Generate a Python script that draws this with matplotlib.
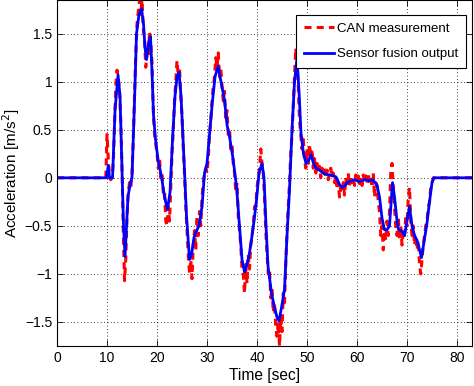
import numpy as np
import matplotlib
matplotlib.use("Agg")
import matplotlib.pyplot as plt

plt.rcParams['font.family'] = ['Liberation Sans', 'DejaVu Sans']

# Sensor fusion output (blue): time [s], acceleration [m/s^2]
fusion_t = [0, 9.9, 10.25, 10.5, 11.1, 11.6, 12.2, 12.6, 13.0, 13.3, 13.6, 13.9, 14.2, 14.6,
            15.0, 15.5, 15.9, 16.4, 16.9, 17.3, 17.6, 17.9, 18.3, 18.7, 19.0, 19.3, 19.7,
            20.2, 20.9, 21.5, 22.1, 22.6, 23.1, 23.6, 24.0, 24.4, 24.8, 25.3, 25.9, 26.5,
            26.9, 27.4, 27.9, 28.4, 29.0, 29.5, 30.0, 30.5, 31.0, 31.6, 32.2, 32.8, 33.5,
            34.0, 34.5, 35.2, 35.9, 36.5, 37.0, 37.5, 38.0, 38.5, 38.9, 39.4, 39.9, 40.4,
            41.0, 41.4, 41.8, 42.2, 42.9, 43.5, 44.0, 44.4, 44.9, 45.5, 46.0, 46.5, 47.0,
            47.5, 48.0, 48.4, 48.8, 49.3, 49.8, 50.3, 50.8, 51.3, 51.8, 52.5, 53.5, 54.5,
            55.3, 55.8, 56.5, 57.0, 57.5, 58.0, 58.5, 59.5, 60.5, 61.5, 62.5, 63.1, 63.6,
            64.0, 64.5, 65.0, 65.5, 66.0, 66.5, 67.1, 67.5, 68.0, 68.3, 68.9, 69.5, 70.0,
            70.5, 71.0, 71.5, 72.0, 72.5, 72.9, 73.3, 74.0, 74.5, 75.0, 75.4, 83]
fusion_a = [0, 0, 0.13, 0.0, 0.0, 0.7, 1.07, 0.85, 0.1, -0.5, -0.82, -0.5, -0.19, -0.08,
            0.01, 0.8, 1.5, 1.7, 1.76, 1.6, 1.35, 1.23, 1.4, 1.47, 1.1, 0.65, 0.4,
            0.19, 0.01, -0.2, -0.33, -0.15, 0.4, 0.85, 1.05, 1.1, 0.85, 0.3, -0.4, -0.85,
            -0.8, -0.62, -0.55, -0.5, -0.3, 0.05, 0.15, 0.45, 0.75, 1.05, 1.16, 1.0, 0.81,
            0.55, 0.43, 0.2, -0.09, -0.5, -0.85, -0.98, -0.9, -0.78, -0.64, -0.45, -0.23, 0.05,
            0.15, 0.0, -0.5, -0.92, -1.2, -1.35, -1.45, -1.49, -1.35, -1.16, -0.6, -0.12, 0.5,
            1.0, 1.24, 0.9, 0.46, 0.25, 0.15, 0.18, 0.24, 0.15, 0.1, 0.08, 0.04, 0.03,
            0.02, 0.01, -0.07, -0.1, -0.09, -0.05, -0.04, -0.02, -0.04, -0.02, -0.03, -0.02, -0.05,
            -0.08, -0.2, -0.42, -0.54, -0.54, -0.5, -0.05, -0.2, -0.45, -0.54, -0.55, -0.6, -0.45,
            -0.3, -0.5, -0.6, -0.65, -0.75, -0.83, -0.7, -0.47, -0.25, -0.05, 0.0, 0]

# CAN measurement (red): sampled every 0.25 s from 9.5 s to 76 s, zero outside
can_start, can_step = 9.5, 0.25
can_a = [0.0, 0.0, 0.45, 0.2, 0.0, -0.02,
         0.0, 0.15, 0.55, 0.95,
         1.12, 1.05, 0.9, 0.6,
         0.1, -0.55, -1.07, -0.85,
         -0.4, -0.15, -0.05, -0.1,
         0.05, 0.4, 0.85, 1.3,
         1.6, 1.72, 1.85, 1.7,
         1.85, 1.55, 1.45, 1.15,
         1.3, 1.25, 1.52, 1.4,
         1.2, 0.7, 0.45, 0.35,
         0.25, 0.1, 0.2, 0.0,
         0.05, -0.15, -0.12, -0.45,
         -0.5, -0.3, -0.45, -0.1,
         0.25, 0.5, 0.8, 1.0,
         1.22, 1.05, 1.15, 0.85,
         0.65, 0.3, 0.05, -0.3,
         -0.55, -0.8, -1.0, -0.85,
         -1.05, -0.7, -0.55, -0.75,
         -0.4, -0.6, -0.35, -0.5,
         -0.2, -0.05, 0.05, 0.1,
         0.05, 0.2, 0.45, 0.6,
         0.8, 0.95, 1.05, 1.25,
         1.15, 1.3, 1.05, 1.15,
         0.95, 0.8, 0.9, 0.6,
         0.7, 0.45, 0.5, 0.3,
         0.35, 0.15, 0.05, -0.15,
         -0.05, -0.4, -0.55, -0.7,
         -0.95, -1.0, -1.2, -0.9,
         -1.1, -0.8, -0.95, -0.7,
         -0.6, -0.5, -0.3, -0.3,
         -0.1, 0.0, 0.1, 0.3,
         0.15, 0.05, -0.2, -0.55,
         -0.8, -1.0, -0.95, -1.25,
         -1.15, -1.4, -1.3, -1.55,
         -1.65, -1.5, -1.75, -1.45,
         -1.6, -1.2, -1.3, -0.9,
         -0.55, -0.3, -0.05, 0.25,
         0.45, 0.75, 1.05, 1.35,
         1.2, 0.95, 0.6, 0.45,
         0.3, 0.4, 0.2, 0.1,
         0.3, 0.15, 0.35, 0.2,
         0.3, 0.1, 0.2, 0.05,
         0.15, 0.05, 0.12, 0.0,
         0.1, 0.05, 0.1, 0.0,
         0.08, -0.02, 0.05, 0.1,
         0.0, 0.05, -0.05, 0.02,
         -0.12, -0.05, -0.2, -0.1,
         -0.15, -0.05, -0.18, 0.0,
         -0.1, 0.05, -0.08, 0.02,
         -0.05, 0.0, -0.08, 0.03,
         -0.05, 0.02, -0.06, 0.0,
         -0.08, 0.03, -0.04, 0.02,
         -0.07, 0.05, -0.05, 0.0,
         -0.1, 0.05, -0.2, -0.05,
         -0.08, -0.25, -0.35, -0.6,
         -0.5, -0.75, -0.55, -0.65,
         -0.45, -0.6, -0.35, 0.05,
         0.15, -0.1, -0.3, -0.5,
         -0.6, -0.4, -0.65, -0.5,
         -0.7, -0.55, -0.6, -0.4,
         -0.5, -0.2, -0.1, -0.45,
         -0.6, -0.5, -0.7, -0.6,
         -0.75, -0.65, -0.9, -1.0,
         -0.85, -0.7, -0.6, -0.5,
         -0.45, -0.3, -0.25, -0.1,
         -0.05, 0.0, 0.0, 0.0, 0.0]
can_t = [0.0] + [can_start + i * can_step for i in range(len(can_a))] + [83.0]
can_v = [0.0] + can_a + [0.0]

x_ticks = [0, 10, 20, 30, 40, 50, 60, 70, 80]
y_ticks = [-1.5, -1, -0.5, 0, 0.5, 1, 1.5]
y_ticklabels = ['\u22121.5', '\u22121', '\u22120.5', '0', '0.5', '1', '1.5']

fig = plt.figure(figsize=(4.74, 3.86), dpi=100)
ax = fig.add_axes([0.1203, 0.1036, 0.8755, 0.8964])

ax.plot(can_t, can_v, color='#ff0000', linestyle=(0, (2.3, 1.7)), linewidth=2.2,
        label='CAN measurement')
ax.plot(fusion_t, fusion_a, color='#0000ff', linewidth=2.0, label='Sensor fusion output')

ax.set_xlim(0, 83)
ax.set_ylim(-1.75, 1.85)
ax.set_xticks(x_ticks)
ax.set_yticks(y_ticks)
ax.set_yticklabels(y_ticklabels)
ax.tick_params(direction='in', top=True, right=True, labelsize=10, length=4, width=0.6)
ax.grid(True, color='black', linestyle=(0, (1, 3)), linewidth=0.6)
for s in ax.spines.values():
    s.set_linewidth(0.8)

ax.set_xlabel('Time [sec]', fontsize=11.2, labelpad=2)
ax.set_ylabel('Acceleration [m/s$^2$]', fontsize=11.0)
ax.yaxis.set_label_coords(-0.085, 0.5)

leg = ax.legend(loc='upper right', fontsize=9.5, fancybox=False, framealpha=1,
                edgecolor='black', handlelength=2.3, handletextpad=0.2,
                borderpad=0.6, borderaxespad=0.0,
                bbox_to_anchor=(0.9855, 0.957), labelspacing=1.0)
leg.get_frame().set_linewidth(0.8)

fig.savefig('out.png', dpi=100)
